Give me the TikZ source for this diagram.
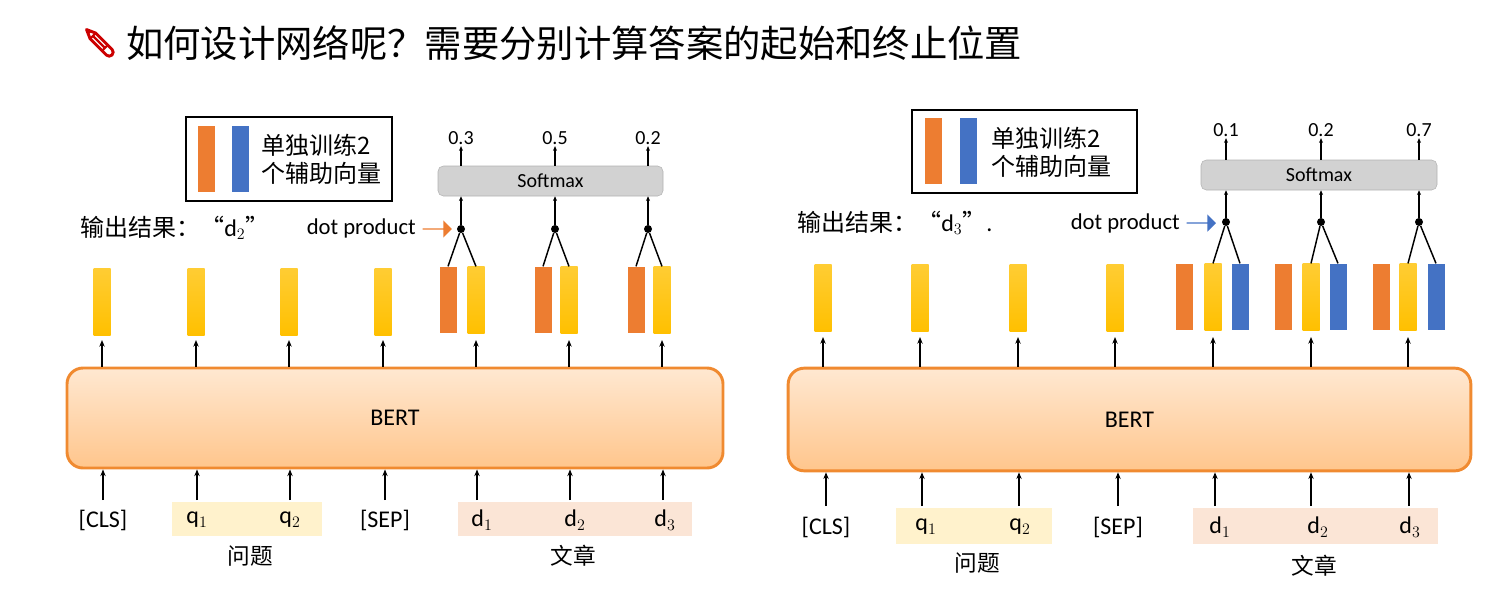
\documentclass[tikz,border=0pt]{standalone}
\usepackage{fontspec}
\setmainfont{Carlito}
\newfontfamily\cjk{Noto Sans CJK SC}
\usetikzlibrary{arrows.meta,shapes.arrows}
\definecolor{oran}{HTML}{ED7D31}
\definecolor{yel}{HTML}{FFC000}
\definecolor{blu}{HTML}{4472C4}
\definecolor{bertb}{HTML}{F08A30}
\definecolor{qband}{HTML}{FFF2CC}
\definecolor{dband}{HTML}{FBE5D6}
\tikzset{
  bar/.style={draw=none,minimum width=12.75pt,minimum height=50pt,inner sep=0pt},
  ybar/.style={bar,top color=yel!80!white,bottom color=yel},
  obar/.style={bar,fill=oran},
  bbar/.style={bar,fill=blu},
  arr/.style={-{Stealth[length=5pt,width=4pt]},line width=1.1pt},
  sarr/.style={-{Stealth[length=3.5pt,width=3pt]},line width=0.8pt},
  lnk/.style={line width=1.1pt},
  dotn/.style={circle,fill=black,inner sep=0pt,minimum size=6pt},
  bert/.style={draw=bertb,line width=2.2pt,rounded corners=12pt,top color=orange!18!white,bottom color=orange!45!white},
  smax/.style={draw=gray!60,fill=gray!35,rounded corners=4pt,inner sep=0pt,font=\fontsize{15}{18}\selectfont},
  lbl/.style={font=\fontsize{18}{21}\selectfont,inner sep=1pt},
  num/.style={font=\fontsize{15}{18}\selectfont,inner sep=1pt},
  cn/.style={font=\cjk\fontsize{17}{20}\selectfont,inner sep=1pt},
  legend/.style={draw=black,line width=1.6pt,inner sep=0pt}
}
\begin{document}
\begin{tikzpicture}[x=0.75pt,y=-0.75pt]
\useasboundingbox (0,0) rectangle (1486,597);
% title
\begin{scope}[shift={(100,43)},rotate=-45]
 \draw[red!80!black,line width=2.2pt,line join=round] (-10,-4) -- (13,-4) arc(-90:90:4) -- (-10,4) -- (-19,0) -- cycle;
 \draw[red!80!black,line width=1.6pt] (-10,-4) -- (-10,4) (7,-4) -- (7,4) (-10,0) -- (7,0);
 \fill[red!80!black] (-19,0) -- (-14,-2) -- (-14,2) -- cycle;
\end{scope}
\node[anchor=west,font=\cjk\fontsize{28}{32}\selectfont,inner sep=0pt] (title) at (126,43) {如何设计网络呢？需要分别计算答案的起始和终止位置};

% ================= LEFT =================
\node[bert,minimum width=492pt,minimum height=75pt] (bertL) at (395,418) {};
\node[font=\fontsize{18}{21}\selectfont] (bertLt) at (395,418) {BERT};
\node[fill=qband,minimum width=112pt,minimum height=26pt,inner sep=0pt] (qbL) at (247,519) {};
\node[fill=dband,minimum width=176pt,minimum height=26pt,inner sep=0pt] (dbL) at (575,519) {};
\foreach \n/\x/\t in {i1/103/[CLS],i2/197/q$_1$,i3/290/q$_2$,i4/385/[SEP],i5/482/d$_1$,i6/575/d$_2$,i7/665/d$_3$}{
  \node[lbl] (L\n) at (\x,520) {\t};
}
\foreach \x in {103,197,290,385,477,570,663}{
  \coordinate (Lin\x) at (\x,500);
  \draw[arr] (Lin\x) -- (Lin\x |- bertL.south);
}
\node[cn] (wtL) at (250,556) {问题};
\node[cn] (wzL) at (573,556) {文章};
% bars
\foreach \n/\x in {a/102,b/196,c/289,d/383}{\node[ybar] (Ly\n) at (\x,302) {};}
\foreach \n/\o/\y in {1/448/476,2/543/569,3/636/662}{
  \node[obar] (Lo\n) at (\o,300) {};
  \node[ybar] (Ld\n) at (\y,300) {};
}
\foreach \x in {102,196,289,383,476,569,662}{
  \coordinate (Lout\x) at (\x,340);
  \draw[arr] (Lout\x |- bertL.north) -- (Lout\x);
}
\node[smax,minimum width=168.75pt,minimum height=22.5pt] (smL) at (550.5,181) {Softmax};
\foreach \n/\x/\v in {1/461/0.3,2/555/0.5,3/648/0.2}{
  \node[dotn] (Ldot\n) at (\x,229) {};
  \draw[lnk] (Ldot\n) -- (Lo\n.north);
  \draw[lnk] (Ldot\n) -- (Ld\n.north);
  \draw[sarr] (Ldot\n) -- (Ldot\n |- smL.south);
  \node[num] (Lv\n) at (\x,138) {\v};
  \draw[sarr] (Ldot\n |- smL.north) -- (Lv\n.south);
}
\node[legend,minimum width=154.5pt,minimum height=63pt] (legL) at (289,159) {};
\node[obar,minimum height=49pt] (legLo) at (206,159) {};
\node[bbar,minimum height=49pt] (legLb) at (240,159) {};
\node[cn,font=\cjk\fontsize{18}{21}\selectfont,align=left,anchor=west] (legLt) at (260,159) {单独训练2\\个辅助向量};
\node[anchor=west,inner sep=0pt] (outL) at (80,228) {{\cjk\fontsize{18}{21}\selectfont 输出结果：“}{\fontsize{18}{21}\selectfont d$_2$}{\cjk\fontsize{18}{21}\selectfont ”}};
\node[anchor=east,font=\fontsize{17}{20}\selectfont,inner sep=0pt] (dpL) at (416,228) {dot product};
\node[single arrow,fill=oran,minimum height=22pt,minimum width=13pt,single arrow head extend=2.5pt,inner sep=0pt] (daL) at (437,229) {};

% ================= RIGHT =================
\node[bert,minimum width=512pt,minimum height=77pt] (bertR) at (1129.5,419.5) {};
\node[font=\fontsize{18}{21}\selectfont] (bertRt) at (1129.5,420) {BERT};
\node[fill=qband,minimum width=117pt,minimum height=27pt,inner sep=0pt] (qbR) at (974,526) {};
\node[fill=dband,minimum width=184pt,minimum height=27pt,inner sep=0pt] (dbR) at (1315.5,526) {};
\foreach \n/\x/\t in {i1/826/[CLS],i2/926/q$_1$,i3/1020/q$_2$,i4/1118/[SEP],i5/1220/d$_1$,i6/1318/d$_2$,i7/1410/d$_3$}{
  \node[lbl] (R\n) at (\x,527) {\t};
}
\foreach \x in {826,922,1019,1118,1215,1311,1409}{
  \coordinate (Rin\x) at (\x,506);
  \draw[arr] (Rin\x) -- (Rin\x |- bertR.south);
}
\node[cn] (wtR) at (977,563) {问题};
\node[cn] (wzR) at (1314,566) {文章};
\foreach \n/\x in {a/823,b/920,c/1018,d/1115}{\node[ybar] (Ry\n) at (\x,298) {};}
\foreach \n/\o/\y/\b in {1/1184/1213/1240,2/1283/1311/1338,3/1381/1408/1436}{
  \node[obar] (Ro\n) at (\o,297) {};
  \node[ybar] (Rd\n) at (\y,297) {};
  \node[bbar] (Rb\n) at (\b,297) {};
}
\foreach \x in {823,920,1018,1115,1213,1311,1408}{
  \coordinate (Rout\x) at (\x,337);
  \draw[arr] (Rout\x |- bertR.north) -- (Rout\x);
}
\node[smax,minimum width=177pt,minimum height=22.5pt] (smR) at (1319,175) {Softmax};
\foreach \n/\x/\v in {1/1226/0.1,2/1321/0.2,3/1419/0.7}{
  \node[dotn] (Rdot\n) at (\x,222) {};
  \draw[lnk] (Rdot\n) -- (Rd\n.north);
  \draw[lnk] (Rdot\n) -- (Rb\n.north);
  \draw[sarr] (Rdot\n) -- (Rdot\n |- smR.south);
  \node[num] (Rv\n) at (\x,130) {\v};
  \draw[sarr] (Rdot\n |- smR.north) -- (Rv\n.south);
}
\node[legend,minimum width=168.75pt,minimum height=62pt] (legR) at (1024.5,151.5) {};
\node[obar,minimum height=50pt] (legRo) at (933,151) {};
\node[bbar,minimum height=50pt] (legRb) at (968,151) {};
\node[cn,font=\cjk\fontsize{18}{21}\selectfont,align=left,anchor=west] (legRt) at (990,152) {单独训练2\\个辅助向量};
\node[anchor=west,inner sep=0pt] (outR) at (797,223) {{\cjk\fontsize{18}{21}\selectfont 输出结果：“}{\fontsize{18}{21}\selectfont d$_3$}{\cjk\fontsize{18}{21}\selectfont ”}{\fontsize{18}{21}\selectfont .}};
\node[anchor=east,font=\fontsize{17}{20}\selectfont,inner sep=0pt] (dpR) at (1180,223) {dot product};
\node[single arrow,fill=blu,minimum height=22pt,minimum width=13pt,single arrow head extend=2.5pt,inner sep=0pt] (daR) at (1201,223) {};
\end{tikzpicture}
\end{document}
